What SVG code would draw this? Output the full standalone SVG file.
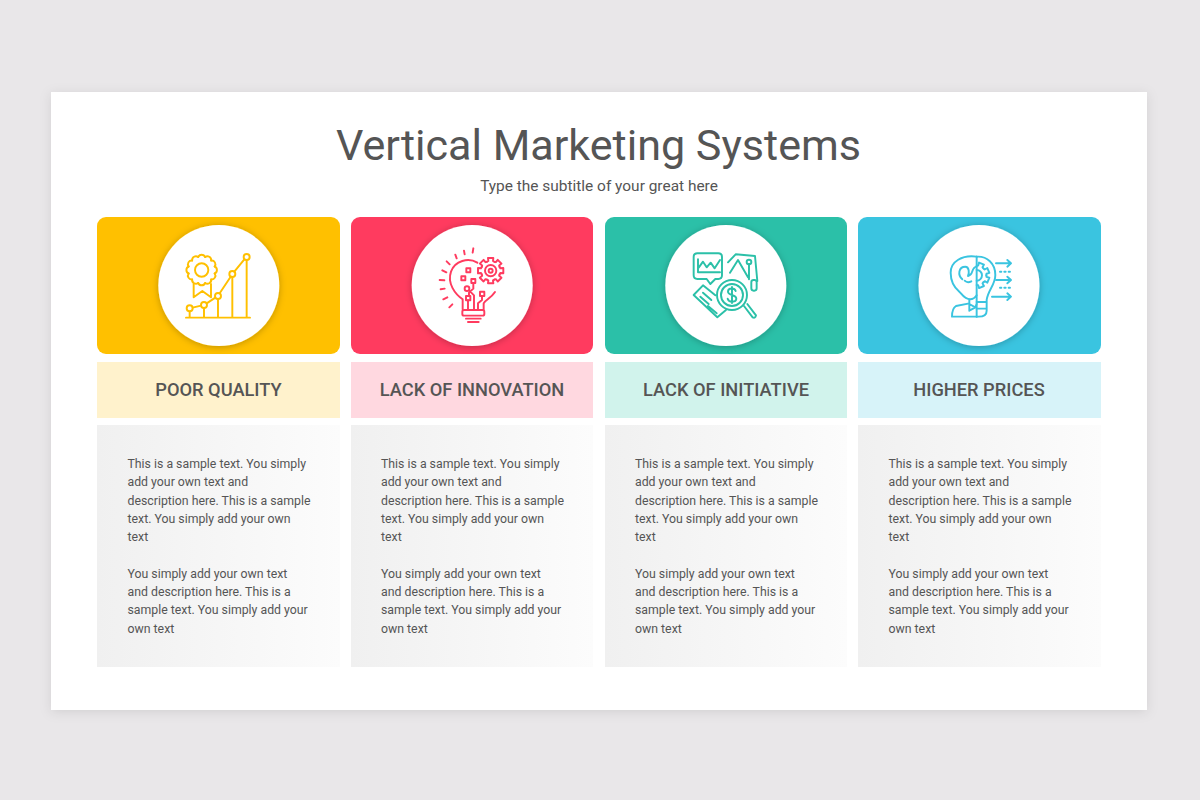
<svg xmlns="http://www.w3.org/2000/svg" xmlns:xlink="http://www.w3.org/1999/xlink" width="1200" height="800" viewBox="0 0 1200 800">
<style>
text{font-family:Roboto,"Liberation Sans",sans-serif;fill:#555}
.title{font-size:43.1px;text-anchor:middle}
.sub{font-size:15.45px;text-anchor:middle}
.label{font-size:18.25px;font-weight:500;text-anchor:middle}
.body{font-size:12.3px}
.ic{fill:none;stroke-width:5.8;stroke-linecap:round;stroke-linejoin:round}
.y{stroke:#FFC000}.r{stroke:#FF3B5F}.g{stroke:#2BC0A8}.b{stroke:#3AC4E0}
</style>
<defs>
<filter id="cardShadow" x="-5%" y="-5%" width="110%" height="110%"><feDropShadow dx="0" dy="2" stdDeviation="6" flood-color="#000" flood-opacity=".1"/></filter>
<filter id="circleShadow" x="-20%" y="-20%" width="140%" height="140%"><feDropShadow dx="0" dy="1" stdDeviation="3.5" flood-color="#000" flood-opacity=".25"/></filter>
<linearGradient id="fade"><stop offset="0" stop-color="#F0F0F0"/><stop offset="1" stop-color="#FCFCFC"/></linearGradient>
<path id="tooth" d="M-11.100-26.800-7-29-8-38H8L7-29 11.100-26.800"/>
<path id="lobe" d="M-10.500-39A11.500 11.500 0 0 1 10.500-39"/>
<g id="para">
<text class="body" y="0">This is a sample text. You simply</text>
<text class="body" y="18.300">add your own text and</text>
<text class="body" y="36.600">description here. This is a sample</text>
<text class="body" y="54.900">text. You simply add your own</text>
<text class="body" y="73.200">text</text>
<text class="body" y="109.800">You simply add your own text</text>
<text class="body" y="128.100">and description here. This is a</text>
<text class="body" y="146.400">sample text. You simply add your</text>
<text class="body" y="164.700">own text</text>
</g>
</defs>
<rect width="1200" height="800" fill="#E9E7E9"/>
<rect x="51" y="92" width="1096" height="618" fill="#fff" filter="url(#cardShadow)"/>
<text class="title" x="598.500" y="160">Vertical Marketing Systems</text>
<text class="sub" x="599" y="191">Type the subtitle of your great here</text>

<g id="col1">
<rect x="97" y="217" width="243" height="137" rx="9" fill="#FFC000"/>
<circle cx="218.800" cy="285.500" r="60.500" fill="#fff" filter="url(#circleShadow)"/>
<g class="ic y" transform="translate(150 220) scale(.3333)">
<g transform="translate(155 150)"><circle r="20"/>
<use xlink:href="#lobe"/><use xlink:href="#lobe" transform="rotate(30)"/><use xlink:href="#lobe" transform="rotate(60)"/><use xlink:href="#lobe" transform="rotate(90)"/><use xlink:href="#lobe" transform="rotate(120)"/><use xlink:href="#lobe" transform="rotate(150)"/><use xlink:href="#lobe" transform="rotate(180)"/><use xlink:href="#lobe" transform="rotate(210)"/><use xlink:href="#lobe" transform="rotate(240)"/><use xlink:href="#lobe" transform="rotate(270)"/><use xlink:href="#lobe" transform="rotate(300)"/><use xlink:href="#lobe" transform="rotate(330)"/></g>
<path d="M131 192V232L157 213 183 232V192"/>
<path d="M108 293H300M119 275V293M162 264V293M204 237V293M247 172V293M290 120V293"/>
<path d="M128 263 153 257M170 250 196 233M209 220 242 170M253 155 283 118"/>
<circle cx="119" cy="265" r="9"/><circle cx="162" cy="255" r="9"/><circle cx="204" cy="228" r="9"/><circle cx="247" cy="162" r="9"/><circle cx="290" cy="111" r="9"/>
</g>
<rect x="97" y="362" width="243" height="56" fill="#FFF2CC"/>
<text class="label" x="218.500" y="396">POOR QUALITY</text>
<rect x="97" y="425" width="243" height="242" fill="url(#fade)"/>
<use xlink:href="#para" transform="translate(127.500 468)"/>
</g>

<g id="col2">
<rect x="351" y="217" width="242" height="137" rx="9" fill="#FF3B5F"/>
<circle cx="472.200" cy="285.500" r="60.500" fill="#fff" filter="url(#circleShadow)"/>
<g class="ic r" transform="translate(405 220) scale(.3333)">
<g transform="translate(257 152)"><circle r="17"/><circle r="6"/>
<use xlink:href="#tooth"/><use xlink:href="#tooth" transform="rotate(45)"/><use xlink:href="#tooth" transform="rotate(90)"/><use xlink:href="#tooth" transform="rotate(135)"/><use xlink:href="#tooth" transform="rotate(180)"/><use xlink:href="#tooth" transform="rotate(225)"/><use xlink:href="#tooth" transform="rotate(270)"/><use xlink:href="#tooth" transform="rotate(315)"/></g>
<path d="M217 128C190 112 150 122 138 155 126 190 150 222 173 238V268M270 216C258 235 240 240 236 250V268"/>
<rect x="172" y="270" width="66" height="17" rx="5"/><path d="M183 296H227M189 306H221"/>
<path d="M205 85 203 98M177 92 179 103M151 104 155 115M125 124 134 133M112 151 124 157M104 180 118 181M107 208 119 206M115 238 127 232M133 262 142 253"/>
<rect x="184" y="145" width="12" height="12"/><rect x="169" y="169" width="12" height="12"/><rect x="199" y="177" width="12" height="12"/><rect x="183" y="228" width="13" height="13"/><rect x="225" y="215" width="13" height="13"/>
<circle cx="186" cy="206" r="7"/><path d="M205 189V206L192 218V228M189 241V268M193 212 207 226V268M231 228V240L219 250V268"/>
</g>
<rect x="351" y="362" width="242" height="56" fill="#FFD8E0"/>
<text class="label" x="472" y="396">LACK OF INNOVATION</text>
<rect x="351" y="425" width="242" height="242" fill="url(#fade)"/>
<use xlink:href="#para" transform="translate(381 468)"/>
</g>

<g id="col3">
<rect x="605" y="217" width="242" height="137" rx="9" fill="#2BC0A8"/>
<circle cx="725.800" cy="285.500" r="60.500" fill="#fff" filter="url(#circleShadow)"/>
<g class="ic g" transform="translate(658 220) scale(.3333)">
<path d="M118 100H181Q192 100 192 111V166Q192 177 181 177H172L157 192 146 177H118Q107 177 107 166V111Q107 100 118 100Z"/>
<path d="M120 118V157H186M122 143 135 125 146 142 158 128 170 145 186 120"/>
<path d="M210 127 233 103 291 108 298 183M216 158 240 120 270 172M273 132V178"/>
<circle cx="273" cy="126" r="7"/>
<rect x="280" y="180" width="16" height="32" rx="7"/>
<path d="M172 226 135 196 107 225 178 292 204 270M135 218 160 240M127 230 152 252M150 258 176 280"/>
<circle cx="222" cy="225" r="45"/><circle cx="222" cy="225" r="33"/>
<path d="M233 213C230 203 211 203 210 214 209 228 236 222 235 237 234 248 212 248 209 236M222 201V249"/>
<path d="M258 258 284 292Q292 296 294 286L268 252"/>
</g>
<rect x="605" y="362" width="242" height="56" fill="#D1F3EC"/>
<text class="label" x="726" y="396">LACK OF INITIATIVE</text>
<rect x="605" y="425" width="242" height="242" fill="url(#fade)"/>
<use xlink:href="#para" transform="translate(635 468)"/>
</g>

<g id="col4">
<rect x="858" y="217" width="243" height="137" rx="9" fill="#3AC4E0"/>
<circle cx="979" cy="285.500" r="60.500" fill="#fff" filter="url(#circleShadow)"/>
<g class="ic b" transform="translate(912 220) scale(.3333)">
<path d="M194 110V290"/>
<path d="M194 110C150 104 116 125 116 158 116 188 130 205 142 215 150 222 156 238 175 238 184 238 190 232 194 226"/>
<path d="M151 178C136 165 140 140 160 140 172 140 172 160 168 168M168 168C186 166 176 142 194 140"/>
<path d="M158 182Q166 190 178 184"/>
<path d="M172 240V250L132 258Q120 265 120 290H194M172 252 190 262 172 272ZM194 252 190 262"/>
<path d="M194 110C225 108 250 130 250 165 250 195 228 210 224 240V272Q224 290 200 290H194M194 246H224M194 266H224"/>
<g transform="translate(194 166)"><use xlink:href="#tooth" transform="rotate(22.500)"/><use xlink:href="#tooth" transform="rotate(67.500)"/><use xlink:href="#tooth" transform="rotate(112.500)"/><use xlink:href="#tooth" transform="rotate(157.500)"/><path d="M0-16A16 16 0 0 1 0 16"/></g>
<path d="M252 130H296M286 120 297 130 286 140M252 180H296M286 170 297 180 286 190M240 230H296M286 220 297 230 286 240"/>
<path d="M264 155H268M277 155H281M290 155H294M264 203H268M277 203H281M290 203H294"/>
</g>
<rect x="858" y="362" width="243" height="56" fill="#D7F3F9"/>
<text class="label" x="979" y="396">HIGHER PRICES</text>
<rect x="858" y="425" width="243" height="242" fill="url(#fade)"/>
<use xlink:href="#para" transform="translate(888.500 468)"/>
</g>
</svg>
